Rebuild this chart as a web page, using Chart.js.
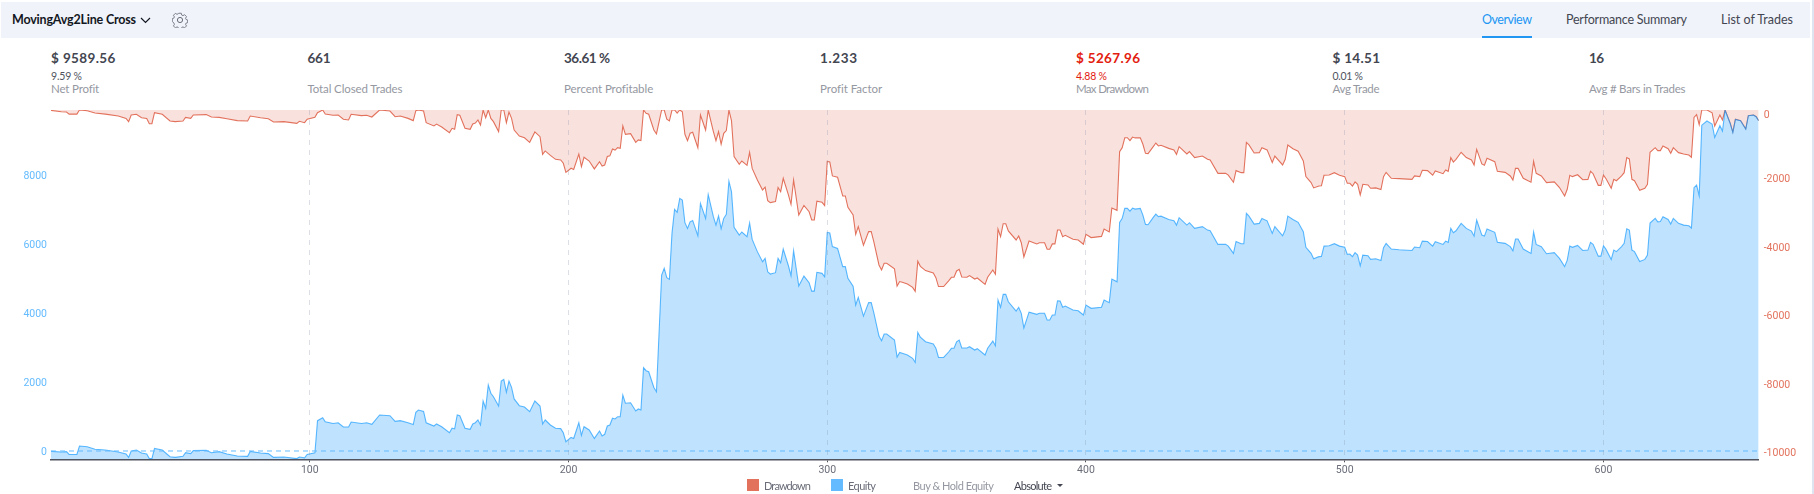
<!DOCTYPE html>
<html><head><meta charset="utf-8">
<script src="https://cdn.jsdelivr.net/npm/chart.js@4/dist/chart.umd.js"></script>
<style>
html,body{margin:0;padding:0;background:#fff;overflow:hidden;width:1814px;height:494px;font-family:Lato,"Open Sans",sans-serif}
#wrap{position:relative;width:1814px;height:494px}
canvas{position:absolute;left:0;top:0}
.a{position:absolute;white-space:nowrap;line-height:1}
#band{position:absolute;left:1px;top:2px;width:1809px;height:36px;background:#f0f3fa}
#strip{position:absolute;left:1812px;top:0;width:2px;height:494px;background:#dfe5f0}
.val{font-weight:700;font-size:13.5px;color:#434651;top:52px}
.sub{font-size:10.5px;color:#50535e;top:70.5px}
.lab{font-size:11.5px;color:#9598a1;top:83px}
.tab{font-size:12.5px;color:#434651;top:14px}
.leg{font-size:11px;color:#6a6d78;top:479.5px}
.sw{position:absolute;width:12px;height:12px;top:479px}
</style></head><body><div id="wrap">
<div id="band"></div><div id="strip"></div>
<div class="a" data-w="124" style="left:12px;top:14px;font-size:12.5px;font-weight:700;color:#131722">MovingAvg2Line Cross</div>
<svg class="a" style="left:140px;top:17px" width="11" height="7"><path d="M1 1l4.5 4.5L10 1" fill="none" stroke="#131722" stroke-width="1.2"/></svg>
<svg class="a" style="left:172px;top:12px" width="16" height="16" viewBox="0 0 16 16"><circle cx="8" cy="8" r="2.6" fill="none" stroke="#6a6d78"/><path d="M6.6 1h2.8l.4 1.9 1.3.6 1.7-1 2 2-1 1.7.6 1.3 1.6.5v2.8l-1.6.4-.6 1.3 1 1.7-2 2-1.7-1-1.3.6-.4 1.6H6.6l-.4-1.6-1.3-.6-1.7 1-2-2 1-1.7-.6-1.3L0 9.400V6.600l1.600-.5.6-1.300-1-1.700 2-2 1.700 1 1.300-.6z" transform="translate(.3 .3) scale(.96)" fill="none" stroke="#6a6d78" stroke-width=".9"/></svg>
<div class="a tab" data-w="50" style="left:1482px;color:#2196f3">Overview</div>
<div class="a" style="left:1482px;top:36px;width:50px;height:2px;background:#2196f3"></div>
<div class="a tab" data-w="121" style="left:1566px">Performance Summary</div>
<div class="a tab" data-w="72" style="left:1721px">List of Trades</div>

<div class="a val" data-w="64.4" style="left:51px">$ 9589.56</div><div class="a sub" data-w="31" style="left:51px">9.59 %</div><div class="a lab" data-w="48" style="left:51px">Net Profit</div>
<div class="a val" data-w="23" style="left:307.5px">661</div><div class="a lab" data-w="95" style="left:307.5px">Total Closed Trades</div>
<div class="a val" data-w="46" style="left:564px">36.61 %</div><div class="a lab" data-w="89" style="left:564px">Percent Profitable</div>
<div class="a val" data-w="37" style="left:820px">1.233</div><div class="a lab" data-w="62" style="left:820px">Profit Factor</div>
<div class="a val" data-w="64" style="left:1076px;color:#e3200f">$ 5267.96</div><div class="a sub" data-w="31" style="left:1076px;color:#e3200f">4.88 %</div><div class="a lab" data-w="73" style="left:1076px">Max Drawdown</div>
<div class="a val" data-w="47.5" style="left:1332.5px">$ 14.51</div><div class="a sub" data-w="30.5" style="left:1332.5px">0.01 %</div><div class="a lab" data-w="47" style="left:1332.5px">Avg Trade</div>
<div class="a val" data-w="15" style="left:1589px">16</div><div class="a lab" data-w="96.5" style="left:1589px">Avg # Bars in Trades</div>

<canvas id="c" width="1814" height="494" style="width:1814px;height:494px"></canvas>

<div class="sw" style="left:747px;background:#e3725d"></div><div class="a leg" data-w="47" style="left:764px">Drawdown</div>
<div class="sw" style="left:831px;background:#64bbff"></div><div class="a leg" data-w="28" style="left:848px">Equity</div>
<div class="a leg" data-w="81" style="left:913px;color:#9598a1">Buy &amp; Hold Equity</div>
<div class="a leg" data-w="38" style="left:1014px;color:#434651">Absolute</div>
<div class="a" style="left:1057px;top:484px;width:0;height:0;border:3.5px solid transparent;border-top-color:#434651;border-bottom:0"></div>
</div>
<script>
const tradeNo=[0,4,6,7,10,11,14,17,21,26,29,30,31,33,35,37,38,39,40,43,46,48,51,52,54,55,60,62,65,68,72,76,77,81,84,86,90,95,96,98,99,102,103,105,106,109,111,113,115,116,120,122,124,127,131,133,135,138,140,141,142,144,145,148,149,151,154,155,156,157,158,160,162,163,164,165,166,167,168,169,170,171,173,174,175,176,177,178,179,181,183,185,187,189,190,191,193,195,197,198,199,201,202,204,205,206,208,210,212,213,214,215,216,217,218,219,220,221,222,224,226,227,228,229,230,231,233,234,236,237,238,239,240,241,242,243,244,245,246,247,248,250,251,253,254,256,257,258,259,260,261,262,263,264,266,267,269,270,271,273,275,276,277,278,280,281,282,283,285,286,287,289,291,293,294,295,296,298,299,300,301,302,304,306,307,308,310,311,312,314,316,317,318,320,321,322,323,326,327,328,329,331,333,334,335,336,338,341,342,343,345,347,348,349,350,351,352,354,355,357,358,361,362,364,365,366,367,368,369,370,373,374,375,376,378,381,382,384,385,386,387,388,389,390,391,392,395,397,399,400,402,406,407,409,410,412,413,414,415,416,417,418,419,421,422,423,424,426,427,428,429,432,434,435,436,439,440,442,445,447,448,451,454,455,457,458,460,461,462,463,465,467,468,470,472,473,476,477,478,480,482,484,485,487,488,490,491,492,494,496,498,500,501,502,503,504,505,506,507,509,510,512,514,515,516,518,521,526,527,529,530,532,534,535,538,539,540,541,542,543,545,547,549,550,551,553,554,555,558,559,562,564,565,566,567,569,572,573,574,576,578,581,583,585,586,587,588,590,592,594,595,596,598,599,600,601,603,604,605,607,608,609,610,611,612,614,616,617,618,620,621,622,623,625,626,627,629,631,633,634,635,636,637,638,640,642,643,645,646,647,649,650,651,653,655,656,658,659,660];
const equity=[-10,-30,-20,-100,-100,145,125,50,30,-30,-85,-185,0,30,-60,-85,-220,-220,75,30,-165,-185,-155,-50,-75,10,20,-50,-20,-85,-145,-155,-10,-60,-75,-185,-175,-220,-175,-200,-100,-50,880,965,850,800,820,695,695,840,800,820,775,1045,1025,860,880,820,765,1120,1190,1150,820,725,785,705,530,660,640,1045,1025,660,630,785,820,900,755,1450,1240,1915,1675,1575,1305,2030,2080,1710,2030,1845,1510,1315,1275,1140,1450,1305,785,900,755,660,650,530,270,395,365,820,455,705,610,365,580,435,485,725,755,950,930,995,995,1625,1385,1400,1160,1220,1190,2420,2330,2300,1845,1720,5105,5300,5030,4980,6315,7010,6925,7330,7280,6625,6460,6650,6690,6245,7185,6750,7445,6800,6555,6825,6450,6750,6865,7830,7525,6490,6265,6355,6220,6615,6140,5785,5490,5590,5200,5135,5175,5590,5465,5860,5375,5085,5810,4785,5075,4885,4640,4640,5185,5155,5055,6345,6325,5930,5880,5350,5350,5010,4785,4235,4460,3915,4305,4305,4015,3335,3200,3395,3395,3220,2725,2860,2835,2785,2690,2570,3440,3300,3170,3105,2980,2715,2715,2880,2980,2980,3170,3220,2990,2990,3025,2930,2970,2785,2980,3190,3055,4380,4170,4545,4545,4330,4060,4170,3995,3570,4030,3965,3995,3995,3800,3800,3945,3945,4360,4350,4170,4205,4090,4070,3945,4235,4140,4170,4380,4305,4990,4910,6635,6750,7040,7040,6960,7050,7020,7040,6845,6575,6565,6780,6875,6800,6815,6720,6680,6555,6770,6555,6625,6460,6510,6410,6390,5995,5995,5945,5735,6080,6015,6015,6895,6815,6585,6605,6750,6680,6315,6510,6245,6410,6815,6720,6635,6365,5910,5735,5580,5640,5645,5945,5955,6015,5945,5910,5705,5715,5640,5755,5685,5375,5685,5665,5560,5580,5530,5900,6025,5860,5840,5820,5920,5900,6090,6080,5945,6075,5995,6090,6055,6460,6335,6390,6605,6460,6380,6235,6700,6265,6235,6440,6345,6055,6025,5930,5810,6150,6150,5860,5735,6355,5995,5930,5725,5755,5590,5350,5540,5945,5910,5965,5820,5830,6055,5995,5655,5655,5955,5850,5560,5830,5785,5930,6025,6450,6410,5830,5785,5500,5560,5685,6615,6750,6650,6660,6800,6720,6585,6750,6605,6555,6535,6470,7640,7715,7405,9455,9575,9485,9100,9440,9285,9890,9505,9245,9620,9585,9340,9730,9750,9700,9585];
const drawdown=[-10,-50,-60,-120,-120,0,-20,-90,-120,-175,-245,-340,-145,-125,-225,-245,-400,-400,-80,-125,-320,-340,-320,-215,-245,-145,-135,-205,-215,-255,-310,-320,-175,-225,-255,-350,-340,-390,-330,-370,-270,-215,-80,0,-115,-155,-145,-270,-290,-125,-165,-155,-205,0,-30,-195,-175,-245,-310,-20,0,-30,-370,-465,-410,-495,-660,-535,-565,-135,-155,-535,-565,-410,-380,-290,-440,0,-225,0,-245,-340,-630,0,0,-370,-60,-245,-585,-760,-810,-945,-640,-780,-1295,-1195,-1325,-1440,-1460,-1555,-1820,-1700,-1735,-1285,-1655,-1380,-1490,-1720,-1510,-1635,-1605,-1360,-1340,-1140,-1170,-1100,-1120,-465,-710,-690,-945,-875,-895,0,-95,-125,-585,-700,0,0,-270,-320,0,0,-90,0,-50,-710,-895,-680,-650,-1100,-145,-585,0,-630,-895,-630,-1000,-680,-600,0,-310,-1360,-1585,-1490,-1615,-1235,-1705,-2045,-2335,-2255,-2645,-2705,-2675,-2265,-2385,-1995,-2480,-2755,-2045,-3065,-2785,-2970,-3210,-3210,-2665,-2695,-2790,-1500,-1520,-1925,-1965,-2510,-2510,-2840,-3065,-3630,-3405,-3950,-3550,-3550,-3845,-4525,-4670,-4475,-4475,-4640,-5140,-5010,-5030,-5080,-5180,-5295,-4415,-4565,-4690,-4760,-4895,-5155,-5155,-4980,-4885,-4885,-4700,-4650,-4875,-4885,-4835,-4935,-4905,-5090,-4885,-4670,-4795,-3475,-3700,-3320,-3320,-3530,-3795,-3680,-3875,-4290,-3825,-3910,-3875,-3875,-4065,-4065,-3910,-3910,-3505,-3505,-3700,-3660,-3775,-3795,-3920,-3630,-3725,-3690,-3475,-3560,-2860,-2930,-1215,-1100,-810,-810,-895,-790,-815,-810,-1000,-1265,-1275,-1070,-965,-1050,-1030,-1120,-1165,-1295,-1070,-1285,-1215,-1390,-1345,-1440,-1460,-1850,-1850,-1900,-2110,-1770,-1830,-1830,-945,-1020,-1255,-1245,-1100,-1165,-1535,-1345,-1605,-1440,-1020,-1130,-1205,-1490,-1945,-2120,-2275,-2220,-2210,-1905,-1900,-1830,-1905,-1945,-2140,-2140,-2220,-2100,-2170,-2480,-2170,-2190,-2285,-2275,-2325,-1945,-1820,-1995,-2005,-2025,-1925,-1945,-1760,-1770,-1905,-1780,-1860,-1750,-1790,-1390,-1520,-1440,-1235,-1390,-1460,-1605,-1150,-1575,-1615,-1410,-1510,-1790,-1820,-1925,-2045,-1705,-1705,-1995,-2110,-1500,-1850,-1925,-2120,-2100,-2265,-2510,-2315,-1905,-1945,-1890,-2035,-2025,-1790,-1860,-2200,-2200,-1900,-2005,-2285,-2025,-2065,-1925,-1830,-1390,-1430,-2025,-2065,-2345,-2285,-2170,-1235,-1100,-1185,-1185,-1050,-1130,-1265,-1100,-1245,-1285,-1315,-1380,-215,-135,-430,0,0,-80,-465,-145,-290,0,-390,-650,-270,-310,-555,-165,-145,-195,-310];
const zeroLineX=[0,660];
const zeroLineY=[0,0];
const tradeTicks=[100,200,300,400,500,600];
const equityTicks=[0,2000,4000,6000,8000];
const drawdownTicks=[0,-2000,-4000,-6000,-8000,-10000];
document.querySelectorAll('[data-w]').forEach(el=>{
  const t=el.textContent.length, w=el.getBoundingClientRect().width, target=+el.dataset.w;
  if(t>1) el.style.letterSpacing=((target-w)/(t-1))+'px';
});
const pts=(xs,ys)=>xs.map((x,i)=>({x,y:ys[i]}));
const AXF='Roboto, Lato, sans-serif';
new Chart(document.getElementById('c'),{
 type:'line',
 data:{datasets:[
  {label:'Zero',data:pts(zeroLineX,zeroLineY),yAxisID:'yE',borderColor:'#64bbff',borderWidth:1,borderDash:[5,4],pointRadius:0,fill:false},
  {label:'Equity',data:pts(tradeNo,equity),yAxisID:'yE',borderColor:'rgba(0,145,255,0.62)',backgroundColor:'rgba(100,187,255,0.41)',borderWidth:1.1,pointRadius:0,tension:0,fill:'start'},
  {label:'Drawdown',data:pts(tradeNo,drawdown),yAxisID:'yD',borderColor:'#e3725d',backgroundColor:'rgba(226,110,90,0.2)',borderWidth:1.1,pointRadius:0,tension:0,fill:'end'}
 ]},
 options:{
  responsive:false,animation:false,devicePixelRatio:1,
  layout:{padding:{top:110,left:0,right:0,bottom:0}},
  plugins:{legend:{display:false},tooltip:{enabled:false},title:{display:false}},
  scales:{
   x:{type:'linear',min:0,max:660,
      afterFit(s){s.height=34.7},
      afterBuildTicks(s){s.ticks=tradeTicks.map(v=>({value:v}))},
      ticks:{color:'#6a6d78',font:{family:AXF,size:10.5},padding:2,maxRotation:0,autoSkip:false,callback:v=>String(v)},
      grid:{color:'rgba(130,140,160,0.28)',tickColor:'#50535e',tickLength:3,lineWidth:1,z:1},
      border:{display:true,color:'#50535e',width:1.5,dash:[5,5],z:2}},
   yE:{position:'left',min:-241,max:9895,
      afterFit(s){s.width=51},
      afterBuildTicks(s){s.ticks=equityTicks.map(v=>({value:v}))},
      ticks:{color:'#64bbff',font:{family:AXF,size:10.5},padding:4,labelOffset:1.5,autoSkip:false,callback:v=>String(v)},
      grid:{display:false,drawTicks:false},border:{display:false}},
   yD:{position:'right',min:-10199,max:0,
      afterFit(s){s.width=55.3},
      afterBuildTicks(s){s.ticks=drawdownTicks.map(v=>({value:v}))},
      ticks:{color:'#e3725d',font:{family:AXF,size:10.5,lineHeight:'8px'},padding:5,labelOffset:1,autoSkip:false,callback:v=>v===0?['','0']:String(v)},
      grid:{display:false,drawTicks:false},border:{display:false}}
  }
 }
});
</script></body></html>
